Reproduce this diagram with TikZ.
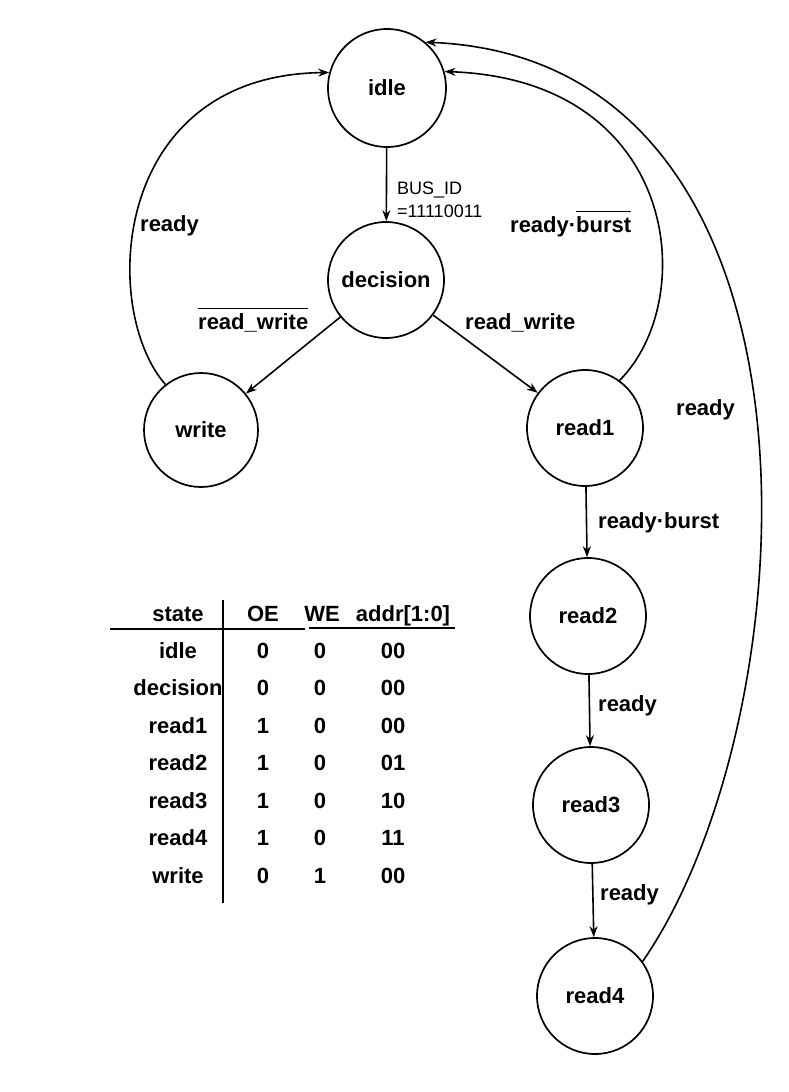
\documentclass[tikz,border=0pt]{standalone}
\usepackage{fontspec}
\setmainfont{Liberation Sans}
\usetikzlibrary{arrows.meta}
\newcommand{\mylbl}{\fontsize{22}{26}\selectfont\bfseries}
\newcommand{\myhand}{\fontsize{18}{22}\selectfont}
\newcommand{\ovl}[1]{\vbox{\hrule height 1.3pt\kern 4pt\hbox{#1}}}
\begin{document}
\begin{tikzpicture}[x=1pt,y=-1pt,
  stnode/.style={circle,draw,line width=1.7pt,minimum size=116pt,inner sep=0pt,font=\mylbl},
  conn/.style={line width=1.6pt,-{Stealth[length=11pt,width=8pt]}},
  lab/.style={inner sep=0pt,font=\mylbl,anchor=base west},
  hand/.style={inner sep=0pt,font=\myhand,anchor=base west},
  tbl/.style={inner sep=0pt,font=\mylbl,anchor=base},
  tline/.style={line width=1.7pt}]
\useasboundingbox (0,0) rectangle (788,1092);
% states
\node[stnode,minimum size=118pt] (idle) at (387,88) {idle};
\node[stnode] (decision) at (386,280) {decision};
\node[stnode,minimum size=114pt] (write) at (201,430) {write};
\node[stnode] (read1) at (585,428) {read1};
\node[stnode] (read2) at (588,616) {read2};
\node[stnode] (read3) at (591,805) {read3};
\node[stnode] (read4) at (595,996) {read4};
% connectors
\draw[conn] (idle) -- (decision);
\draw[conn] (decision) -- (write);
\draw[conn] (decision) -- (read1);
\draw[conn] (read1) -- (read2);
\draw[conn] (read2) -- (read3);
\draw[conn] (read3) -- (read4);
\draw[conn] (write.128) .. controls (100,310) and (110,75) .. (idle.165);
\draw[conn] (read1.54) .. controls (700,300) and (680,80) .. (idle.16);
\draw[conn] (read4.36) .. controls (810,720) and (850,60) .. (idle.50);
% labels
\node[hand] (lbus1) at (397,194) {BUS\_ID};
\node[hand] (lbus2) at (397,217) {=11110011};
\node[lab] (lrb1) at (510,232) {ready·\ovl{burst}};
\node[lab] (lrw1) at (198,329) {\ovl{read\_write}};
\node[lab] (lrw2) at (465,329) {read\_write};
\node[lab] (lr1) at (140,231) {ready};
\node[lab] (lr2) at (676,415) {ready};
\node[lab] (lrb2) at (598,528) {ready·burst};
\node[lab] (lr3) at (598,711) {ready};
\node[lab] (lr4) at (600,900) {ready};
% table
\node[tbl] (th0) at (178,621) {state};
\node[tbl] (th1) at (263,621) {OE};
\node[tbl] (th2) at (322,621) {WE};
\node[tbl] (th3) at (403,621) {addr[1:0]};
\foreach \n/\a/\b/\c [count=\i] in {idle/0/0/00, decision/0/0/00, read1/1/0/00, read2/1/0/01, read3/1/0/10, read4/1/0/11, write/0/1/00}{
  \pgfmathsetmacro\yy{658+37.5*(\i-1)}
  \node[tbl] (r\i s) at (178,\yy) {\n};
  \node[tbl] (r\i a) at (263,\yy) {\a};
  \node[tbl] (r\i b) at (320,\yy) {\b};
  \node[tbl] (r\i c) at (393,\yy) {\c};
}
\draw[tline] (223,600) -- (223,903);
\draw[tline] (110,629) -- (305,629);
\draw[tline] (309,628) -- (455,628);
\end{tikzpicture}
\end{document}
